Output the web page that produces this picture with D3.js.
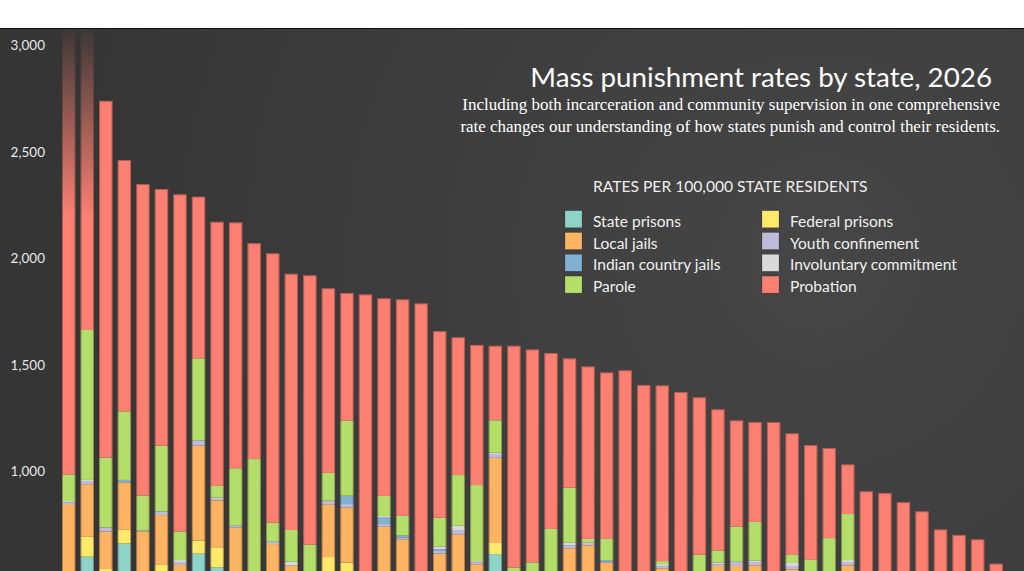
<!DOCTYPE html>
<html>
<head>
<meta charset="utf-8">
<script src="https://cdn.jsdelivr.net/npm/d3@7"></script>
<style>
  html, body { margin: 0; padding: 0; background: #fff; overflow: hidden; }
  svg { display: block; }
</style>
</head>
<body>
<svg id="chart" width="1024" height="571"></svg>
<script>
// ---------------- DATA ----------------
const states = d3.range(1, 52).map(i => "State " + i);

const seriesNames = ["State prisons", "Federal prisons", "Local jails", "Youth confinement",
  "Indian country jails", "Involuntary commitment", "Parole", "Probation"];

const statePrisons = [470,598,480,660,420,500,350,612,548,430,350,380,330,300,500,480,300,380,370,300,330,400,320,610,300,310,300,330,350,330,280,280,300,270,260,300,300,290,260,280,250,240,270,250,230,250,220,200,190,180,150];
const federalPrisons = [50,95,60,66,30,62,30,61,94,40,30,30,25,20,96,90,20,50,40,20,30,40,30,52,20,20,25,30,30,30,20,20,25,20,20,20,25,25,20,20,20,15,20,20,15,20,15,15,15,15,10];
const localJails = [325,245,176,221,266,231,179,446,220,264,120,247,201,150,248,258,150,309,269,150,253,263,212,400,150,150,150,277,271,210,150,140,218,150,150,234,229,242,160,238,160,150,266,150,140,150,140,130,120,130,120];
const youthConfinement = [7,15,19,0,4,17,10,25,7,9,5,6,0,4,17,17,5,12,8,5,12,20,8,18,5,5,5,14,7,6,5,5,10,5,5,8,20,12,5,16,5,5,13,5,5,5,5,5,5,5,5];
const indianCountryJails = [0,0,0,11,0,0,0,0,0,0,0,0,0,0,0,39,0,30,10,0,9,0,0,0,0,0,0,0,0,6,0,0,0,0,0,0,0,0,0,0,0,0,0,0,0,0,0,0,0,0,0];
const involuntaryCommitment = [7,5,0,0,0,0,13,0,7,0,0,6,18,0,0,0,0,8,0,0,12,20,7,6,0,0,0,14,7,0,0,0,10,0,0,8,0,11,0,14,0,0,13,0,0,0,0,0,0,0,0];
const parole = [125,704,328,322,165,309,134,385,54,270,551,88,149,180,130,352,50,94,92,50,135,238,357,152,72,86,248,257,16,99,60,50,14,60,172,57,165,181,50,38,150,275,216,80,90,60,70,60,50,40,60];
const probation = [2516,1588,1675,1180,1462,1205,1583,759,1240,1154,1014,1265,1203,1265,867,600,1304,928,1017,1262,876,647,658,350,1041,1000,826,607,810,782,958,909,825,866,739,663,499,469,735,571,537,423,233,400,417,369,361,316,320,309,220];

const yTicks = [1000, 1500, 2000, 2500, 3000];

const legendCol1 = ["State prisons", "Local jails", "Indian country jails", "Parole"];
const legendCol2 = ["Federal prisons", "Youth confinement", "Involuntary commitment", "Probation"];

const titleText = "Mass punishment rates by state, 2026";
const subtitleLines = [
  "Including both incarceration and community supervision in one comprehensive",
  "rate changes our understanding of how states punish and control their residents."
];
const legendTitle = "RATES PER 100,000 STATE RESIDENTS";

// ---------------- BUILD ----------------
const colors = {
  "State prisons": "#8dd3c7",
  "Federal prisons": "#ffe96b",
  "Local jails": "#fdb462",
  "Youth confinement": "#bebada",
  "Indian country jails": "#80b1d3",
  "Involuntary commitment": "#d9d9d9",
  "Parole": "#b3de69",
  "Probation": "#fb8072"
};

const seriesArrays = [statePrisons, federalPrisons, localJails, youthConfinement,
  indianCountryJails, involuntaryCommitment, parole, probation];

const table = states.map((s, i) => {
  const row = { state: s };
  seriesNames.forEach((n, k) => row[n] = seriesArrays[k][i]);
  return row;
});

const W = 1024, H = 571, TOP = 29;
const svg = d3.select("#chart");
const defs = svg.append("defs");

// background
const bgGrad = defs.append("radialGradient").attr("id", "bg")
  .attr("gradientUnits", "userSpaceOnUse")
  .attr("cx", 820).attr("cy", 260).attr("r", 760);
bgGrad.append("stop").attr("offset", 0).attr("stop-color", "#464646");
bgGrad.append("stop").attr("offset", 1).attr("stop-color", "#353535");

svg.append("rect").attr("x", 0).attr("y", 0).attr("width", W).attr("height", TOP).attr("fill", "#ffffff");
svg.append("rect").attr("x", 0).attr("y", TOP).attr("width", W).attr("height", H - TOP).attr("fill", "url(#bg)");
svg.append("line").attr("x1", 0).attr("x2", W).attr("y1", TOP - 0.5).attr("y2", TOP - 0.5)
  .attr("stroke", "#111").attr("stroke-width", 1);

// scales
const x = d3.scaleBand().domain(states).range([59.42, 59.42 + 51 * 18.55])
  .paddingInner(0.278).paddingOuter(0.139);
const y = d3.scaleLinear().domain([0, 3000]).range([684, 45]);

// clip & fade mask
defs.append("clipPath").attr("id", "plotClip").append("rect")
  .attr("x", 0).attr("y", TOP).attr("width", W).attr("height", H);

const fadeGrad = defs.append("linearGradient").attr("id", "fadeGrad")
  .attr("gradientUnits", "userSpaceOnUse").attr("x1", 0).attr("x2", 0).attr("y1", TOP).attr("y2", 215);
fadeGrad.append("stop").attr("offset", 0).attr("stop-color", "#fff").attr("stop-opacity", 0.04);
fadeGrad.append("stop").attr("offset", 1).attr("stop-color", "#fff").attr("stop-opacity", 1);
const mask = defs.append("mask").attr("id", "fadeMask").attr("maskUnits", "userSpaceOnUse")
  .attr("x", 0).attr("y", 0).attr("width", W).attr("height", 800);
mask.append("rect").attr("x", 0).attr("y", 0).attr("width", W).attr("height", 800).attr("fill", "url(#fadeGrad)");

const stack = d3.stack().keys(seriesNames)(table);

const plot = svg.append("g").attr("clip-path", "url(#plotClip)");

const barGroups = plot.selectAll("g.bar").data(table).join("g")
  .attr("class", "bar")
  .attr("mask", (d) => {
    const total = d3.sum(seriesNames, n => d[n]);
    return total > 3000 ? "url(#fadeMask)" : null;
  });

barGroups.each(function(d, i) {
  const g = d3.select(this);
  stack.forEach(layer => {
    const seg = layer[i];
    if (seg[1] - seg[0] <= 0) return;
    g.append("rect")
      .attr("x", x(d.state))
      .attr("width", x.bandwidth())
      .attr("y", y(seg[1]))
      .attr("height", y(seg[0]) - y(seg[1]))
      .attr("fill", colors[layer.key]);
  });
  const total = d3.sum(seriesNames, n => d[n]);
  g.append("rect")
    .attr("x", x(d.state) + 0.5)
    .attr("width", x.bandwidth() - 1)
    .attr("y", y(total) + 0.5)
    .attr("height", y(0) - y(total))
    .attr("fill", "none")
    .attr("stroke", "rgba(60,20,20,0.35)")
    .attr("stroke-width", 1);
});

// y axis
const yAxis = d3.axisLeft(y).tickValues(yTicks).tickFormat(d3.format(",")).tickSize(0).tickPadding(0);
const yg = svg.append("g").attr("transform", "translate(45,0)").call(yAxis);
yg.select(".domain").remove();
yg.selectAll("text")
  .attr("fill", "#e8e8e8")
  .attr("font-family", "Lato, 'Noto Sans', sans-serif")
  .attr("font-size", 13.5)
  .attr("dy", "0.36em");

function fitWidth(sel, target) {
  const node = sel.node();
  const fs = parseFloat(sel.attr("font-size"));
  const w = node.getComputedTextLength();
  if (w > 0) sel.attr("font-size", fs * target / w);
}

// title
const title = svg.append("text").attr("x", 992).attr("y", 87)
  .attr("text-anchor", "end")
  .attr("fill", "#ffffff")
  .attr("font-family", "Lato, 'Noto Sans', sans-serif")
  .attr("font-size", 28)
  .text(titleText);
fitWidth(title, 462);

subtitleLines.forEach((t, i) => {
  const s = svg.append("text").attr("x", 1000).attr("y", 110 + i * 21.5)
    .attr("text-anchor", "end")
    .attr("fill", "#ffffff")
    .attr("font-family", "'Liberation Serif', 'DejaVu Serif', serif")
    .attr("font-size", 17)
    .text(t);
  fitWidth(s, i === 0 ? 538 : 540);
});

// legend
const lt = svg.append("text").attr("x", 593).attr("y", 192)
  .attr("fill", "#eeeeee")
  .attr("font-family", "Lato, 'Noto Sans', sans-serif")
  .attr("font-size", 14.5)
  .text(legendTitle);
fitWidth(lt, 275);

const legend = svg.append("g");
const rowStep = 21.8;
const legendItems = [];
legendCol1.forEach((n, r) => legendItems.push({ name: n, col: 0, row: r }));
legendCol2.forEach((n, r) => legendItems.push({ name: n, col: 1, row: r }));

const li = legend.selectAll("g").data(legendItems).join("g")
  .attr("transform", d => `translate(${d.col === 0 ? 565 : 762},${210.7 + d.row * rowStep})`);
li.append("rect").attr("width", 17).attr("height", 17)
  .attr("fill", d => colors[d.name])
  .attr("stroke", "rgba(0,0,0,0.25)").attr("stroke-width", 0.6);
const ltexts = li.append("text").attr("x", 28).attr("y", 16)
  .attr("fill", "#f0f0f0")
  .attr("font-family", "Lato, 'Noto Sans', sans-serif")
  .attr("font-size", 15)
  .text(d => d.name);
const ref = ltexts.filter(d => d.name === "Involuntary commitment");
const w0 = ref.node().getComputedTextLength();
const fsL = 15 * 167 / w0;
ltexts.attr("font-size", fsL);
</script>
</body>
</html>
